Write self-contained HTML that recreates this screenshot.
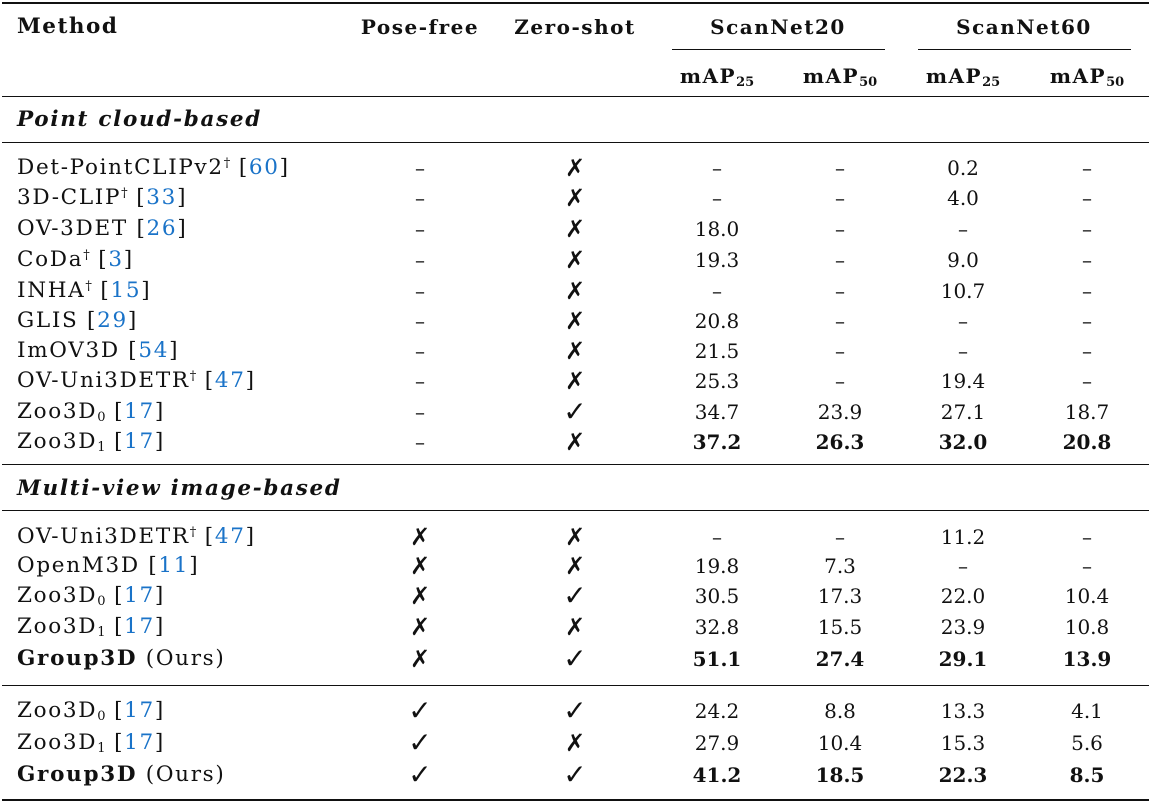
<!DOCTYPE html>
<html><head><meta charset="utf-8"><style>
body{margin:0;background:#fff;width:1151px;height:804px;position:relative;overflow:hidden;font-family:"DejaVu Serif","Liberation Serif",serif;font-size:20px;color:#111}
.r{position:absolute;left:0;width:1151px;height:30px;}
.r>span{position:absolute;top:0;line-height:30px;white-space:nowrap}
.c{transform:translateX(-50%)}
.m{left:17px;font-size:21.5px;letter-spacing:1.7px}
.b{font-weight:bold;letter-spacing:1.5px}
.l{position:absolute;left:2px;width:1147px;background:#111}
.cite{color:#1a73c8}
sub{font-size:13px;vertical-align:-3px;line-height:0;letter-spacing:0}
sup{font-size:13px;vertical-align:7px;line-height:0;letter-spacing:0}
.bi{font-weight:bold;font-style:italic}
.ck{font-family:'DejaVu Sans',sans-serif;font-size:24px}
.ck.v{font-size:28px}
</style></head><body>
<div class="l" style="top:2px;height:2px"></div>
<div class="r" style="top:12px"><span class="m b">Method</span><span class="c b" style="left:420px">Pose-free</span><span class="c b" style="left:575px">Zero-shot</span><span class="c b" style="left:778px">ScanNet20</span><span class="c b" style="left:1024px">ScanNet60</span></div>
<div class="l" style="top:49px;height:1px;left:672px;width:213px"></div>
<div class="l" style="top:49px;height:1px;left:918px;width:213px"></div>
<div class="r" style="top:61px"><span class="c b" style="left:717px">mAP<sub>25</sub></span><span class="c b" style="left:840px">mAP<sub>50</sub></span><span class="c b" style="left:963px">mAP<sub>25</sub></span><span class="c b" style="left:1087px">mAP<sub>50</sub></span></div>
<div class="l" style="top:96px;height:1px"></div>
<div class="r" style="top:105px"><span class="m bi">Point cloud-based</span></div>
<div class="l" style="top:142px;height:1px"></div>

<div id="rows"></div>
<script>
const X='✗',V='✓',D='–';
function row(y,m,p,z,a,b,c,d,bold){
 const f=s=>bold?`<b>${s}</b>`:s;
 const t=s=>(s===X||s===V)?`<span class="ck${s===V?' v':''}">${s}</span>`:s;
 return `<div class="r" style="top:${y-15}px"><span class="m">${m}</span><span class="c" style="left:420px">${t(p)}</span><span class="c" style="left:575px">${t(z)}</span><span class="c" style="left:717px">${f(a)}</span><span class="c" style="left:840px">${f(b)}</span><span class="c" style="left:963px">${f(c)}</span><span class="c" style="left:1087px">${f(d)}</span></div>`;
}
const ci=n=>`[<span class="cite">${n}</span>]`;
const z0='Zoo3D<sub>0</sub> '+ci(17), z1='Zoo3D<sub>1</sub> '+ci(17), g='<b>Group3D</b> (Ours)';
let h='';
h+=row(168,'Det-PointCLIPv2<sup>†</sup> '+ci(60),D,X,D,D,'0.2',D);
h+=row(198,'3D-CLIP<sup>†</sup> '+ci(33),D,X,D,D,'4.0',D);
h+=row(229,'OV-3DET '+ci(26),D,X,'18.0',D,D,D);
h+=row(260,'CoDa<sup>†</sup> '+ci(3),D,X,'19.3',D,'9.0',D);
h+=row(291,'INHA<sup>†</sup> '+ci(15),D,X,D,D,'10.7',D);
h+=row(321,'GLIS '+ci(29),D,X,'20.8',D,D,D);
h+=row(351,'ImOV3D '+ci(54),D,X,'21.5',D,D,D);
h+=row(381,'OV-Uni3DETR<sup>†</sup> '+ci(47),D,X,'25.3',D,'19.4',D);
h+=row(412,z0,D,V,'34.7','23.9','27.1','18.7');
h+=row(442,z1,D,X,'37.2','26.3','32.0','20.8',1);
h+=`<div class="l" style="top:464px;height:1px"></div><div class="r" style="top:474px"><span class="m bi">Multi-view image-based</span></div><div class="l" style="top:510px;height:1px"></div>`;
h+=row(537,'OV-Uni3DETR<sup>†</sup> '+ci(47),X,X,D,D,'11.2',D);
h+=row(566,'OpenM3D '+ci(11),X,X,'19.8','7.3',D,D);
h+=row(596,z0,X,V,'30.5','17.3','22.0','10.4');
h+=row(627,z1,X,X,'32.8','15.5','23.9','10.8');
h+=row(659,g,X,V,'51.1','27.4','29.1','13.9',1);
h+=`<div class="l" style="top:685px;height:1px"></div>`;
h+=row(711,z0,V,V,'24.2','8.8','13.3','4.1');
h+=row(743,z1,V,X,'27.9','10.4','15.3','5.6');
h+=row(775,g,V,V,'41.2','18.5','22.3','8.5',1);
h+=`<div class="l" style="top:799px;height:2px"></div>`;
document.getElementById('rows').innerHTML=h;
</script>
</body></html>
